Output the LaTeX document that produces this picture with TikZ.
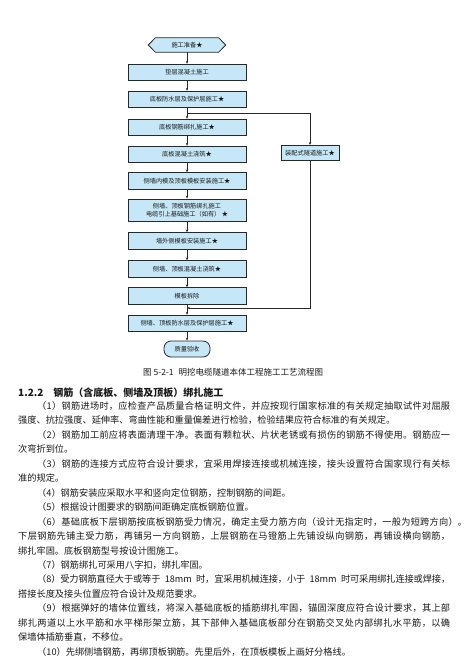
\documentclass[tikz,border=0pt]{standalone}
\usepackage{fontspec}
\setmainfont{Noto Sans CJK SC}
\usetikzlibrary{arrows.meta,backgrounds}
\definecolor{boxfill}{RGB}{198,231,247}
\definecolor{lc}{RGB}{40,40,40}
\definecolor{tc}{RGB}{25,25,25}
\makeatletter
\newcommand{\fl}[2]{\hbox to #1{\@tfor\@tmpch:=#2\do{\@tmpch\hskip 0pt plus 1pt minus 0.5pt\relax}\unskip}}
\makeatother
\begin{document}
\begin{tikzpicture}[x=1pt,y=-1pt,
  box/.style={draw=lc, fill=boxfill, line width=0.8pt, minimum width=118pt, minimum height=16.5pt, inner sep=1pt, font=\fontsize{6.2}{7.6}\selectfont, align=center, text=tc},
  hexbox/.style={minimum width=63pt, minimum height=14pt, inner sep=0pt, font=\fontsize{6.2}{7.6}\selectfont, text=tc},
  arr/.style={draw=lc, line width=0.6pt, -{Stealth[length=3pt,width=2.4pt]}},
  bodytext/.style={anchor=base west, inner sep=0pt, font=\fontsize{9.2}{11}\selectfont, text=tc},
  headtext/.style={anchor=base west, inner sep=0pt, font=\fontsize{10}{12}\selectfont\bfseries, text=tc},
  captext/.style={anchor=base west, inner sep=0pt, font=\fontsize{8.5}{10}\selectfont, text=tc}]
\useasboundingbox (0,0) rectangle (474,670);
% flowchart
\node[hexbox] (prep) at (187,45) {施工准备★};
\begin{scope}[on background layer]
\draw[lc, fill=boxfill, line width=0.8pt] (prep.north west) -- (prep.north east) -- ([xshift=7pt]prep.east) -- (prep.south east) -- (prep.south west) -- ([xshift=-7pt]prep.west) -- cycle;
\end{scope}
\node[box] (b2) at (187,72.5) {垫层混凝土施工};
\node[box] (b3) at (187,99.5) {底板防水层及保护层施工★};
\node[box] (b4) at (187,127.5) {底板钢筋绑扎施工★};
\node[box] (b5) at (187,154.5) {底板混凝土浇筑★};
\node[box] (b6) at (187,181) {侧墙内模及顶板模板安装施工★};
\node[box, minimum height=22pt] (b7) at (187,210) {侧墙、顶板钢筋绑扎施工\\电缆引上基础施工（如有） ★};
\node[box] (b8) at (187,241) {墙外侧模板安装施工★};
\node[box] (b9) at (187,269) {侧墙、顶板混凝土浇筑★};
\node[box] (b10) at (187,296) {模板拆除};
\node[box] (b11) at (187,323.5) {侧墙、顶板防水层及保护层施工★};
\node[box, rounded corners=7pt, minimum width=46pt, minimum height=16pt] (b12) at (187,349) {质量验收};
\node[box, minimum width=58pt, minimum height=15pt] (side) at (310,153) {装配式隧道施工★};
\coordinate (j1) at (187,113);
\coordinate (j2) at (187,308);
\draw[arr] (prep) -- (b2);
\draw[arr] (b2) -- (b3);
\draw[arr] (b3) -- (b4);
\draw[arr] (j1) -| (side);
\draw[arr] (b4) -- (b5);
\draw[arr] (b5) -- (b6);
\draw[arr] (b6) -- (b7);
\draw[arr] (b7) -- (b8);
\draw[arr] (b8) -- (b9);
\draw[arr] (b9) -- (b10);
\draw[arr] (b10) -- (b11);
\draw[arr] (side) |- (j2);
\draw[arr] (b11) -- (b12);
% caption
\node[captext] (caption) at (143,375) {图 5-2-1\hspace{5pt}明挖电缆隧道本体工程施工工艺流程图};
% heading
\node[headtext] (heading) at (18,396.5) {1.2.2\quad 钢筋（含底板、侧墙及顶板）绑扎施工};
% body
\node[bodytext] (t1) at (37,409) {\fl{413pt}{（1）钢筋进场时，应检查产品质量合格证明文件，并应按现行国家标准的有关规定抽取试件对屈服}};
\node[bodytext] (t2) at (18,423.5) {强度、抗拉强度、延伸率、弯曲性能和重量偏差进行检验，检验结果应符合标准的有关规定。};
\node[bodytext] (t3) at (37,438) {\fl{413pt}{（2）钢筋加工前应将表面清理干净。表面有颗粒状、片状老锈或有损伤的钢筋不得使用。钢筋应一}};
\node[bodytext] (t4) at (18,452.5) {次弯折到位。};
\node[bodytext] (t5) at (37,467) {\fl{413pt}{（3）钢筋的连接方式应符合设计要求，宜采用焊接连接或机械连接，接头设置符合国家现行有关标}};
\node[bodytext] (t6) at (18,481.5) {准的规定。};
\node[bodytext] (t7) at (37,496) {（4）钢筋安装应采取水平和竖向定位钢筋，控制钢筋的间距。};
\node[bodytext] (t8) at (37,510.5) {（5）根据设计图要求的钢筋间距确定底板钢筋位置。};
\node[bodytext] (t9) at (37,525) {\fl{430pt}{（6）基础底板下层钢筋按底板钢筋受力情况，确定主受力筋方向（设计无指定时，一般为短跨方向）。}};
\node[bodytext] (t10) at (18,539.5) {\fl{432pt}{下层钢筋先铺主受力筋，再铺另一方向钢筋，上层钢筋在马镫筋上先铺设纵向钢筋，再铺设横向钢筋，}};
\node[bodytext] (t11) at (18,554) {绑扎牢固。底板钢筋型号按设计图施工。};
\node[bodytext] (t12) at (37,568) {（7）钢筋绑扎可采用八字扣，绑扎牢固。};
\node[bodytext] (t13) at (37,582.5) {\fl{413pt}{（8）受力钢筋直径大于或等于\enspace 18mm\enspace 时，宜采用机械连接，小于\enspace 18mm\enspace 时可采用绑扎连接或焊接，}};
\node[bodytext] (t14) at (18,597) {搭接长度及接头位置应符合设计及规范要求。};
\node[bodytext] (t15) at (37,611.5) {\fl{413pt}{（9）根据弹好的墙体位置线，将深入基础底板的插筋绑扎牢固，锚固深度应符合设计要求，其上部}};
\node[bodytext] (t16) at (18,626) {\fl{432pt}{绑扎两道以上水平筋和水平梯形架立筋，其下部伸入基础底板部分在钢筋交叉处内部绑扎水平筋，以确}};
\node[bodytext] (t17) at (18,640.5) {保墙体插筋垂直，不移位。};
\node[bodytext] (t18) at (37,655) {（10）先绑侧墙钢筋，再绑顶板钢筋。先里后外，在顶板模板上画好分格线。};
\end{tikzpicture}
\end{document}
